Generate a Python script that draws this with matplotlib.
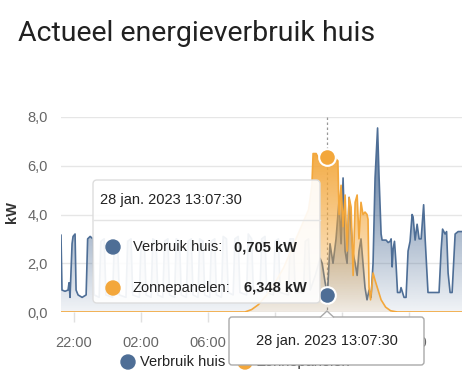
import numpy as np
import matplotlib.pyplot as plt
from matplotlib.patches import FancyBboxPatch, Circle, Polygon

# time in hours relative to 28 jan. 00:00 (negative = 27 jan.)
verbruik_t = [-2.78, -2.72, -2.54, -2.36, -2.30, -2.24, -2.12, -2.06, -1.94, -1.88,
              -1.76, -1.52, -1.28, -1.19, -1.04, -0.87, -0.80, -0.50, -0.40, -0.20,
              -0.10, 0.30, 0.40, 0.60, 0.70, 1.10, 1.20, 1.40, 1.50, 1.90,
              2.00, 2.20, 2.30, 2.60, 2.70, 2.90, 3.00, 3.30, 3.40, 3.60,
              3.70, 4.00, 4.10, 4.30, 4.40, 4.70, 4.80, 5.00, 5.10, 5.40,
              5.50, 5.70, 5.80, 6.10, 6.20, 6.40, 6.50, 6.80, 6.90, 7.10,
              7.20, 7.50, 7.60, 7.80, 7.90, 8.30, 8.40, 8.60, 8.70, 9.10,
              9.20, 9.40, 9.50, 9.90, 10.00, 10.20, 10.30, 10.80, 10.90, 11.10,
              11.20, 11.70, 11.80, 12.00, 12.10, 12.40, 12.69, 12.81, 12.99, 13.125,
              13.28, 13.46, 13.64, 13.82, 13.94, 14.06, 14.18, 14.30, 14.42, 14.54,
              14.66, 14.78, 14.90, 15.01, 15.13, 15.25, 15.37, 15.49, 15.61, 15.73,
              15.85, 15.97, 16.12, 16.21, 16.33, 16.39, 16.63, 16.75, 16.87, 16.93,
              16.99, 17.05, 17.13, 17.22, 17.31, 17.46, 17.52, 17.61, 17.70, 17.82,
              17.94, 18.06, 18.18, 18.24, 18.36, 18.48, 18.60, 18.72, 18.87, 18.96,
              19.04, 19.13, 19.37, 19.61, 19.79, 19.91, 20.00, 20.15, 20.24, 20.33,
              20.45, 20.57, 20.66, 20.75, 20.93, 21.16]
verbruik_kw = [3.15, 0.9, 0.85, 0.9, 1.2, 0.6, 2.8, 3.1, 3.2, 0.9,
               0.7, 0.6, 0.7, 3.0, 3.1, 3.0, 0.7, 0.6, 2.9, 3.0,
               0.7, 0.6, 2.8, 2.9, 0.7, 0.6, 2.9, 3.0, 0.7, 0.6,
               2.9, 2.9, 0.7, 0.6, 3.0, 2.9, 0.7, 0.6, 2.9, 3.0,
               0.7, 0.6, 3.0, 2.9, 0.7, 0.6, 2.9, 3.0, 0.7, 0.6,
               3.0, 2.9, 0.7, 0.6, 2.9, 3.0, 0.7, 0.6, 3.1, 3.0,
               0.8, 0.7, 3.0, 3.1, 0.8, 0.7, 3.2, 3.0, 0.9, 0.8,
               3.0, 3.1, 0.8, 0.7, 2.9, 3.0, 0.8, 0.7, 3.0, 3.0,
               0.8, 0.8, 2.9, 3.0, 0.9, 1.5, 2.2, 2.0, 1.2, 0.705,
               2.8, 2.0, 3.0, 4.6, 2.8, 5.5, 2.5, 2.0, 4.7, 3.5,
               2.4, 2.0, 1.5, 2.5, 3.0, 2.0, 1.0, 0.5, 0.9, 0.6,
               2.0, 5.5, 7.55, 5.5, 3.2, 2.95, 2.95, 2.85, 2.9, 3.0,
               1.85, 2.6, 2.9, 2.0, 0.8, 0.8, 1.0, 0.8, 0.6, 0.6,
               2.5, 2.9, 4.0, 3.9, 2.95, 3.6, 3.0, 3.0, 4.4, 3.0,
               2.0, 0.8, 0.8, 0.8, 0.8, 2.5, 3.4, 3.2, 3.3, 1.6,
               0.8, 0.8, 2.0, 3.2, 3.3, 3.3]

zon_t = [-2.78, 8.2, 8.6, 9.0, 9.5, 10.0, 10.5, 11.0, 11.5, 12.0,
         12.2, 12.27, 12.45, 12.6, 12.81, 13.125, 13.3, 13.6, 13.75, 13.82,
         13.94, 14.06, 14.18, 14.30, 14.42, 14.54, 14.66, 14.78, 14.90, 15.01,
         15.13, 15.25, 15.37, 15.49, 15.55, 15.61, 15.70, 15.85, 15.97, 16.15,
         16.33, 16.6, 16.9, 17.3, 21.16]
zon_kw = [0.0, 0.0, 0.1, 0.3, 0.7, 1.2, 1.8, 2.6, 3.4, 4.2,
          5.2, 6.5, 6.5, 6.3, 6.4, 6.348, 6.4, 6.3, 6.2, 4.0,
          5.2, 3.5, 4.8, 2.5, 4.7, 4.3, 1.5, 4.5, 4.8, 3.0,
          4.5, 4.0, 4.1, 4.0, 3.8, 1.0, 0.5, 1.6, 1.3, 0.9,
          0.5, 0.2, 0.05, 0.0, 0.0]

tick_pos = [-2, 2, 6, 10, 14, 18]
tick_lbl = ['22:00', '02:00', '06:00', '10:00', '14:00', '18:00']
hover_t = 13.125
hover_time = '28 jan. 2023 13:07:30'

blue = '#4e6e96'
orange = '#f3a73b'
W, H = 474, 389

plt.rcParams['font.family'] = ['Liberation Sans', 'DejaVu Sans']
fig = plt.figure(figsize=(W / 100, H / 100), dpi=100)
ax = fig.add_axes([61 / W, (H - 312) / H, (462 - 61) / W, (312 - 117) / H])
ax.set_xlim(verbruik_t[0], verbruik_t[-1])
ax.set_ylim(0, 8)
for s in ax.spines.values():
    s.set_visible(False)
ax.set_yticks([0, 2, 4, 6, 8])
ax.set_yticklabels(['0,0', '2,0', '4,0', '6,0', '8,0'])
ax.set_xticks(tick_pos)
ax.set_xticklabels(tick_lbl)
ax.tick_params(axis='y', length=0, pad=9.5, labelsize=10.5, labelcolor='#666666')
ax.tick_params(axis='x', length=7, width=1, color='#e0e0e0', pad=10,
               labelsize=10.5, labelcolor='#666666')
ax.grid(axis='y', color='#e6e6e6', lw=1)
ax.set_axisbelow(True)


def gradient_area(t, v, color, top, a_top, a_bot, z):
    poly = ax.fill_between(t, v, 0, color='none', lw=0)
    rgb = np.array(plt.matplotlib.colors.to_rgb(color))
    n = 256
    grad = np.zeros((n, 1, 4))
    grad[:, 0, :3] = rgb
    grad[:, 0, 3] = np.linspace(a_bot, a_top, n)
    im = ax.imshow(grad, extent=[t[0], t[-1], 0, top], aspect='auto',
                   origin='lower', zorder=z, interpolation='bilinear')
    im.set_clip_path(poly.get_paths()[0], transform=ax.transData)
    ax.set_xlim(verbruik_t[0], verbruik_t[-1])
    ax.set_ylim(0, 8)


gradient_area(verbruik_t, verbruik_kw, blue, 7.6, 1.0, 0.08, 2)
ax.plot(verbruik_t, verbruik_kw, color=blue, lw=1.2, zorder=3)
gradient_area(zon_t, zon_kw, orange, 6.5, 0.95, 0.1, 4)
ax.plot(zon_t, zon_kw, color=orange, lw=1.2, zorder=5)

# crosshair and hover markers
ax.plot([hover_t, hover_t], [8, 0], color='#999999', lw=0.9, ls=(0, (2, 2)), zorder=1)
ax.plot(hover_t, 6.348, 'o', ms=12, mfc=orange, mec='white', mew=1.5, zorder=6, clip_on=False)
ax.plot(hover_t, 0.705, 'o', ms=12, mfc=blue, mec='white', mew=1.5, zorder=6, clip_on=False)

# overlay in pixel coordinates for title, legend and tooltips
ov = fig.add_axes([0, 0, 1, 1])
ov.set_xlim(0, W)
ov.set_ylim(H, 0)
ov.axis('off')
ov.set_facecolor('none')

ov.text(18, 33, 'Actueel energieverbruik huis', family='Roboto', fontsize=20.5,
        color='#212121', va='center', ha='left')
ov.text(12.5, 212, 'kW', fontsize=10.5, fontweight='bold', color='#333333',
        rotation=90, ha='center', va='center')

# legend
ov.add_patch(Circle((128, 362), 7, color=blue, zorder=2))
ov.text(140, 362, 'Verbruik huis', fontsize=10.5, color='#222222', va='center')
ov.add_patch(Circle((245, 362), 7, color=orange, zorder=2))
ov.text(257, 362, 'Zonnepanelen', fontsize=10.5, color='#222222', va='center')

# tooltip 1
ov.add_patch(FancyBboxPatch((93, 180), 227, 123, boxstyle='round,pad=0,rounding_size=4',
                            fc=(1, 1, 1, 0.92), ec='#dddddd', lw=1, zorder=5))
ov.plot([93, 320], [220, 220], color='#e4e4e4', lw=1, zorder=6)
ov.text(100, 200, hover_time, fontsize=10.5, color='#222222', va='center', zorder=6)
ov.add_patch(Circle((113, 247), 7, color=blue, zorder=6))
ov.text(133, 247, 'Verbruik huis:', fontsize=10.5, color='#222222', va='center', zorder=6)
ov.text(234, 247, '0,705 kW', fontsize=10.5, fontweight='bold', color='#222222',
        va='center', zorder=6)
ov.add_patch(Circle((113, 288), 7, color=orange, zorder=6))
ov.text(133, 288, 'Zonnepanelen:', fontsize=10.5, color='#222222', va='center', zorder=6)
ov.text(244, 288, '6,348 kW', fontsize=10.5, fontweight='bold', color='#222222',
        va='center', zorder=6)

# tooltip 2 (x axis)
ov.add_patch(FancyBboxPatch((229, 317), 195, 48, boxstyle='round,pad=0,rounding_size=3',
                            fc='white', ec='#aaaaaa', lw=1, zorder=7))
ov.add_patch(Polygon([[320, 317.5], [327, 311], [334, 317.5]], closed=False,
                     fc='white', ec='#aaaaaa', lw=1, zorder=8))
ov.text(327, 341, hover_time, fontsize=10.5, color='#222222', ha='center',
        va='center', zorder=9)

fig.savefig('out.png', dpi=100)
